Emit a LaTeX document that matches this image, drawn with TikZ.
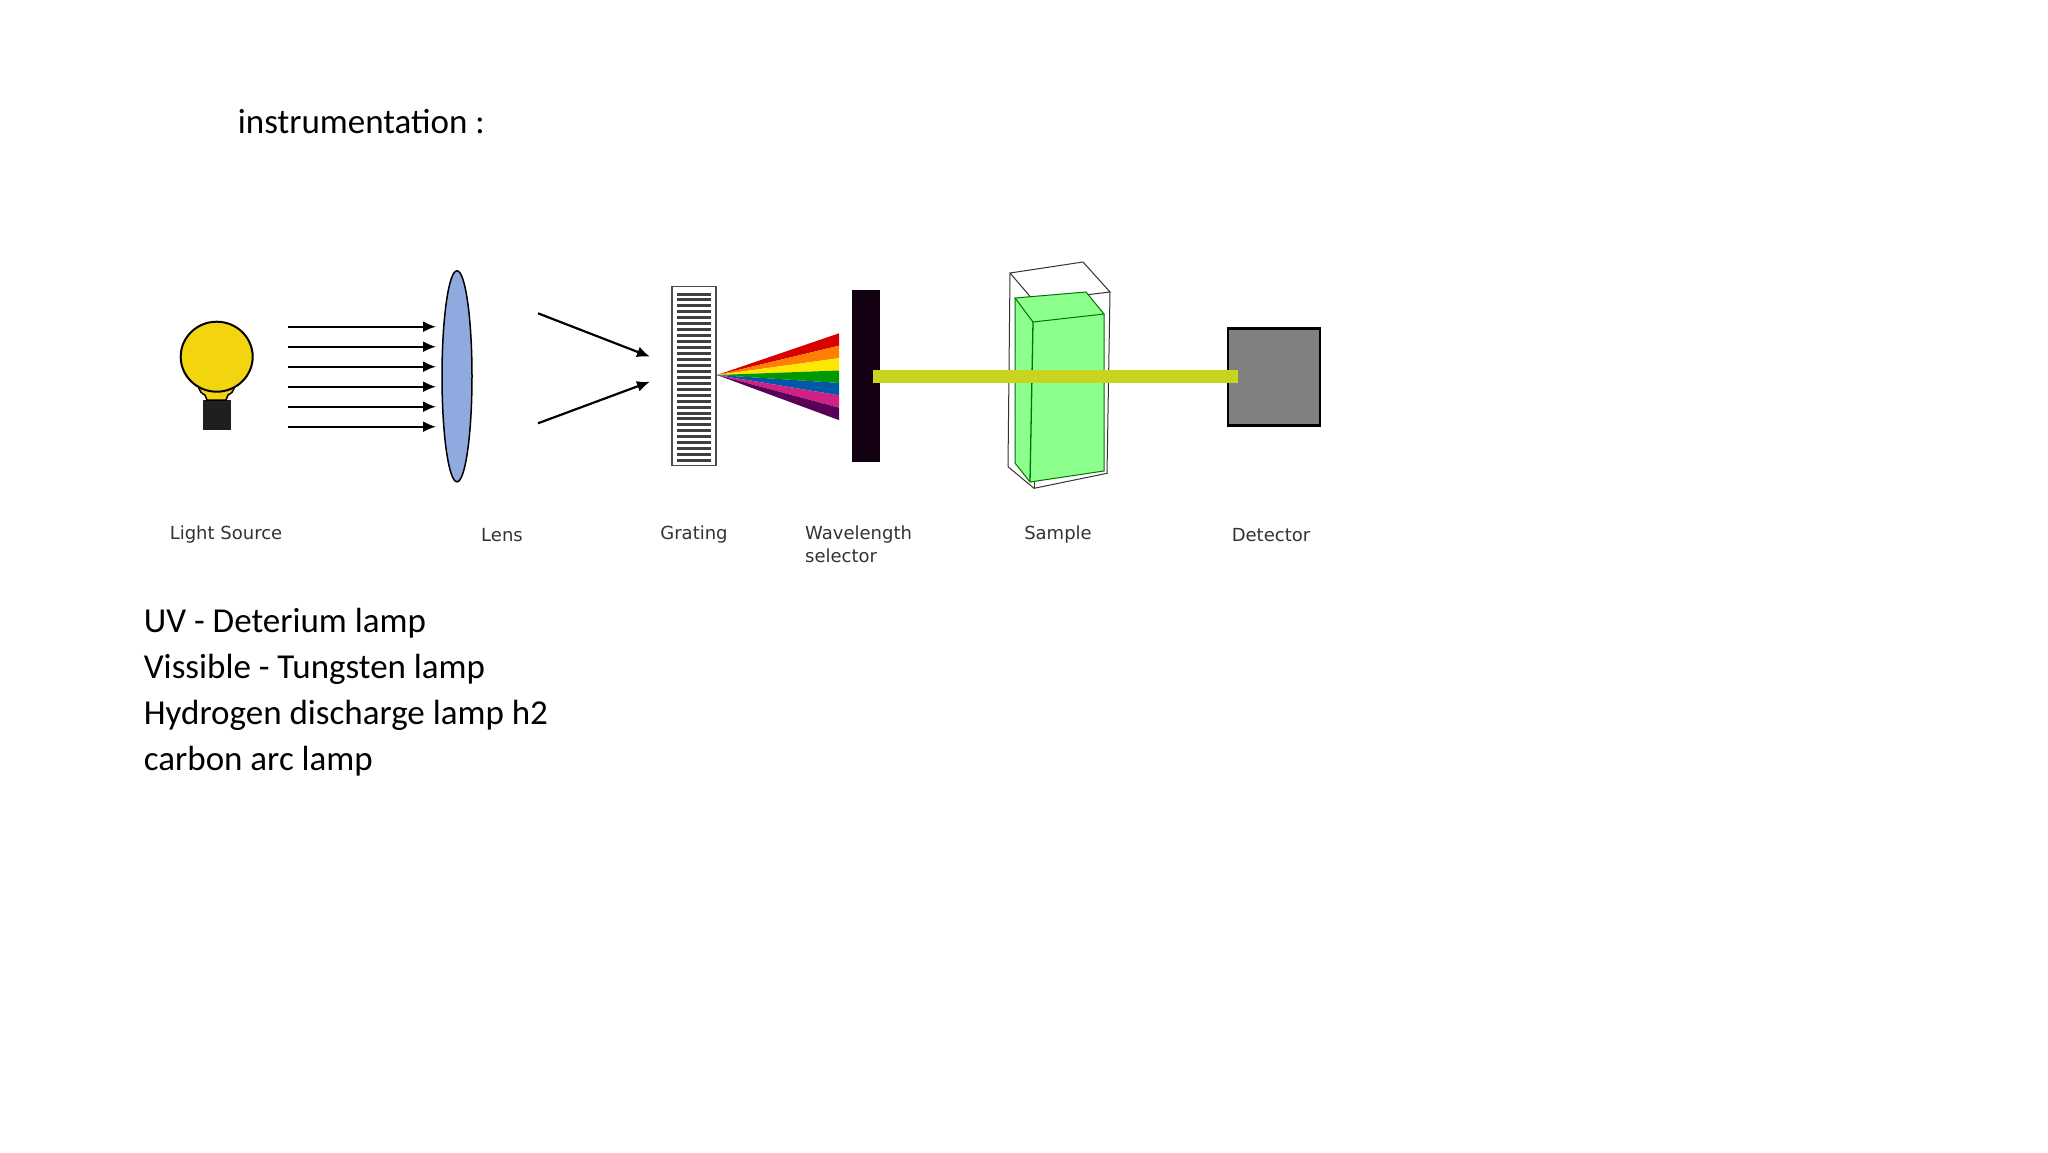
\documentclass[tikz,border=0pt]{standalone}
\usetikzlibrary{arrows.meta,shapes.geometric}
\usepackage{fontspec}
\setmainfont{Carlito}
\newfontfamily\lblfont{DejaVu Sans}
\begin{document}
\begin{tikzpicture}[x=1pt,y=-1pt,
  lbl/.style={font=\lblfont\fontsize{18}{22}\selectfont, text=black!80, inner sep=0pt},
  big/.style={font=\fontsize{35}{46}\selectfont, inner sep=0pt, align=left},
  ray/.style={line width=2.2pt, -{Latex[length=13pt,width=11pt]}}]
\useasboundingbox (0,0) rectangle (2048,1152);
\fill[white] (0,0) rectangle (2048,1152);
% title
\node[big, anchor=west] (title) at (237.7,121.5) {instrumentation :};
% bulb
\fill[black!88] (202.7,400) rectangle (231,430);
\draw[line width=1.5pt, fill=yellow!80!orange!95!black] (207,400) -- (226,400) -- (228,395) .. controls (235,392) and (236,385) .. (232,380) -- (201,380) .. controls (197,385) and (198,392) .. (205,395) -- cycle;
\node[draw, line width=2pt, fill=yellow!80!orange!95!black, ellipse, minimum width=72pt, minimum height=70pt, inner sep=0pt] (bulb) at (216.7,356.7) {};
% arrows
\foreach \y [count=\i] in {326.7,346.7,366.7,386.7,406.7,426.7}{
  \coordinate (s\i) at (288,\y); \coordinate (e\i) at (436,\y);
  \draw[ray] (s\i) -- (e\i);}
% lens
\node[draw, line width=1.5pt, fill=cyan!45!blue!45!white, ellipse, minimum width=30pt, minimum height=211pt, inner sep=0pt] (lens) at (457,376.3) {};
\coordinate (u1) at (538,313.3); \coordinate (u2) at (650,356.7);
\coordinate (l1) at (538,423.3); \coordinate (l2) at (650,381.7);
\draw[ray] (u1) -- (u2);
\draw[ray] (l1) -- (l2);
% grating
\node[draw=black!70, line width=1.2pt, fill=white, minimum width=44pt, minimum height=179pt, inner sep=0pt] (grating) at (694,376.3) {};
\foreach \k in {0,...,28}{
  \draw[black!75, line width=3pt] (677,{294+\k*5.95}) -- (711,{294+\k*5.95});}
% rainbow
\coordinate (apex) at (717,375);
\foreach \c [count=\i from 0] in {red!85!black, orange, yellow!90!orange, green!60!black, teal!70!blue, magenta!70!violet, violet!70!black}{
  \fill[\c] (apex) -- (839,{333.3+\i*12.4}) -- (839,{333.3+(\i+1)*12.4}) -- cycle;}
% selector
\node[fill=black!85!violet, minimum width=28pt, minimum height=172pt, inner sep=0pt] (sel) at (866,376) {};
% cuvette outer
\draw[black!80, line width=1pt] (1010,273) -- (1083,262) -- (1110,292) -- (1034,301) -- cycle;
\draw[black!80, line width=1pt] (1010,273) -- (1008,466.7) -- (1034,488.3) -- (1107,473.3) -- (1110,292);
\draw[black!80, line width=1pt] (1034,301) -- (1034,488.3);
% liquid
\fill[green!45!white] (1015,298) -- (1086,292) -- (1104,314) -- (1104,471) -- (1030,482) -- (1015,463) -- cycle;
\draw[green!45!black, line width=1pt] (1015,298) -- (1086,292) -- (1104,314) -- (1033,322) -- cycle;
\draw[green!45!black, line width=1pt] (1015,298) -- (1015,463) -- (1030,482) -- (1104,471) -- (1104,314);
\draw[green!45!black, line width=1.3pt] (1033,322) -- (1030,482);
% detector
\node[draw, line width=2.5pt, fill=black!50, minimum width=92pt, minimum height=97pt, inner sep=0pt] (det) at (1274,377) {};
% beam
\coordinate (b1) at (873,376.7); \coordinate (b2) at (1238,376.7);
\draw[yellow!85!green!90!black, line width=13pt] (b1) -- (b2);
% labels
\node[lbl] (llight) at (226,535) {Light Source};
\node[lbl] (llens) at (502,535) {Lens};
\node[lbl] (lgrat) at (694,535) {Grating};
\node[lbl, anchor=north west, align=left, font=\lblfont\fontsize{18}{23}\selectfont] (lsel) at (805,526) {Wavelength\\selector};
\node[lbl] (lsam) at (1058,535) {Sample};
\node[lbl] (ldet) at (1271,535) {Detector};
% list
\node[big, anchor=north west] (list) at (143.7,608) {UV - Deterium lamp\\Vissible - Tungsten lamp\\Hydrogen discharge lamp h2\\carbon arc lamp};
\end{tikzpicture}
\end{document}
